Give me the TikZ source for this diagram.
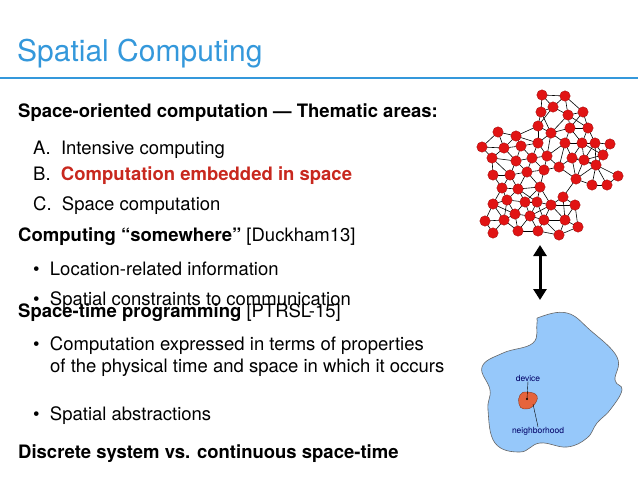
\documentclass[tikz,border=0pt]{standalone}
\usepackage{fontspec}
\setmainfont{TeX Gyre Heros}
\usetikzlibrary{arrows.meta}
\definecolor{ttl}{RGB}{52,152,219}
\definecolor{hl}{RGB}{200,40,30}
\definecolor{nodered}{RGB}{225,20,20}
\definecolor{blobblue}{RGB}{150,200,250}
\definecolor{nbh}{RGB}{230,100,60}
\begin{document}
\begin{tikzpicture}[x=1pt,y=-1pt,
  body/.style={anchor=base west,inner sep=0pt,font=\fontsize{18.5}{22}\selectfont},
  head/.style={body,font=\fontsize{18.5}{22}\selectfont\bfseries},
  dev/.style={circle,fill=nodered,draw=nodered!70!black,line width=0.3pt,minimum size=10.5pt,inner sep=0pt},
  small/.style={font=\fontsize{8.5}{10}\selectfont,text=blue!40!black,inner sep=0pt}]
\useasboundingbox (0,0) rectangle (638,479);
\node[anchor=base west,inner sep=0pt,text=ttl,font=\fontsize{30}{34}\selectfont] (title) at (17,61) {Spatial Computing};
\draw[ttl,line width=2.5pt] (0,78) -- (638,78);
\node[head] (h1) at (18,117) {Space-oriented computation — Thematic areas:};
\node[body] (a) at (33,154) {A.\ \ Intensive computing};
\node[body] (b) at (33,180) {B.\ \ \bfseries\color{hl}Computation embedded in space};
\node[body] (c) at (33,210) {C.\ \ Space computation};
\node[body] (h2) at (18,241) {\bfseries Computing “somewhere” \mdseries[Duckham13]};
\node[body] (b1) at (33,275) {•\ \ Location-related information};
\node[body] (b2) at (33,305) {•\ \ Spatial constraints to communication};
\node[body] (h3) at (18,317) {\bfseries Space-time programming \mdseries[PTRSL-15]};
\node[body] (b3) at (33,350) {•\ \ Computation expressed in terms of properties};
\node[body] (b3b) at (50,372) {of the physical time and space in which it occurs};
\node[body] (b4) at (33,420) {•\ \ Spatial abstractions};
\node[head] (h4) at (18,458) {Discrete system vs. continuous space-time};
% network
\def\pts{542/95,565/96,553/107,541/112,568/115,583/112,538/126,570/128,588/128,498/132,516/136,551/133,482/147,504/148,521/146,538/143,565/143,582/143,595/143,610/144,492/158,516/161,532/158,547/156,572/158,584/160,603/155,596/165,493/175,510/175,527/172,544/170,559/167,576/179,592/185,607/185,618/176,502/188,518/189,540/187,563/197,575/205,493/204,507/200,525/202,537/202,551/205,515/214,530/216,544/220,565/220,485/221,504/220,578/227,493/233,518/231,538/231,559/235}
\foreach \px/\py [count=\i] in \pts { \coordinate (p\i) at (\px,\py); }
\foreach \ax/\ay [count=\i] in \pts {
  \foreach \bx/\by [count=\j] in \pts {
    \ifnum\j>\i
      \pgfmathsetmacro\dd{veclen(\ax-\bx,\ay-\by)}
      \ifdim\dd pt<25pt \draw[line width=0.6pt] (p\i) -- (p\j); \fi
    \fi
  }
}
\foreach \px/\py [count=\i] in \pts { \node[dev] (n\i) at (p\i) {}; }
% arrow
\coordinate (at) at (540,245); \coordinate (ab) at (540,300);
\draw[line width=3pt,{Triangle[width=13pt,length=11pt]}-{Triangle[width=13pt,length=11pt]}] (at) -- (ab);
% blob
\draw[fill=blobblue,draw=gray!80!black,line width=0.6pt] plot[smooth cycle,tension=0.7] coordinates {
 (540,317) (567,313) (590,330) (617,357) (615,380) (622,390) (610,410) (597,423) (587,438) (567,447) (540,443) (520,452) (495,443) (488,410) (490,390) (482,367) (503,353) (533,343) (537,323)};
\draw[fill=nbh,draw=nbh!60!black,line width=0.4pt] plot[smooth cycle,tension=0.8] coordinates {(520,395) (527,392) (537,396) (533,406) (524,409) (519,404)};
\node[small] (dl) at (528,378) {device};
\node[small] (nl) at (538,431) {neighborhood};
\coordinate (dot) at (527,399);
\fill (dot) circle (1.1pt);
\draw[line width=0.4pt] (dot) -- (dl.south);
\draw[line width=0.4pt] (533,404) -- (nl.north);
\end{tikzpicture}
\end{document}
